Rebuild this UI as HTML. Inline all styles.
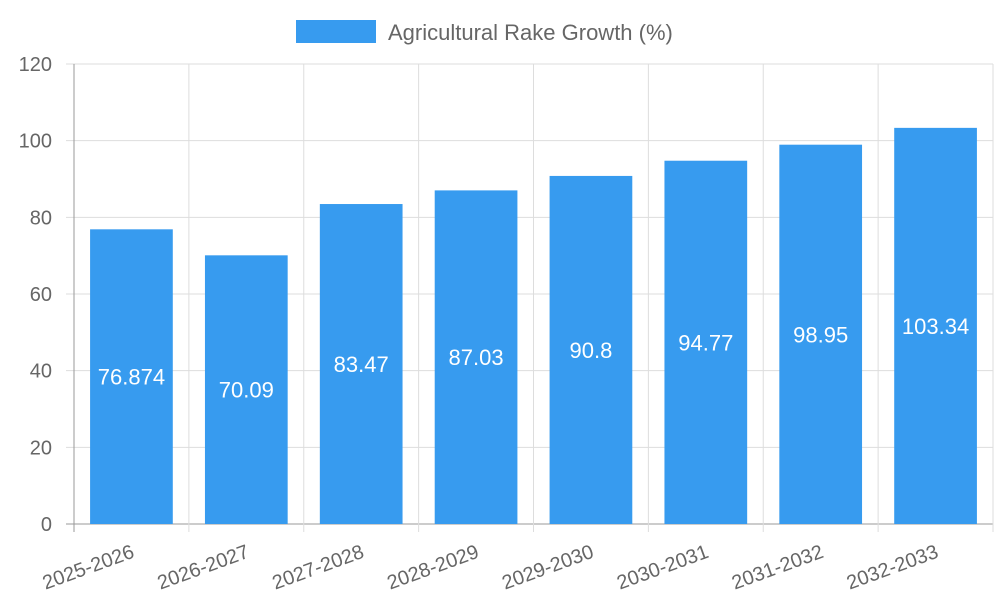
<!DOCTYPE html>
<html><head><meta charset="utf-8"><style>
body{margin:0;background:#fff;}
svg{display:block;font-family:"Liberation Sans",sans-serif;}
</style></head><body>
<svg id="chart" width="1000" height="600" viewBox="0 0 1000 600">
<g id="legend">
<rect x="296" y="20" width="80" height="23" fill="#379bef"/>
<text x="388" y="40" font-size="22" fill="#666">Agricultural Rake Growth (%)</text>
</g>
<g id="grid"></g><g id="bars"></g><g id="labels"></g>
</svg>
<script>
const categories=["2025-2026","2026-2027","2027-2028","2028-2029","2029-2030","2030-2031","2031-2032","2032-2033"];
const values=[76.874,70.09,83.47,87.03,90.8,94.77,98.95,103.34];
const yTicks=[0,20,40,60,80,100,120];
const NS="http://www.w3.org/2000/svg";
const L=74,R=993,T=64,B=524,yMax=120;
const y=v=>B-(v/yMax)*(B-T);
const cw=(R-L)/categories.length;
const x=i=>L+cw*i;
function mk(tag,attrs,parent){const e=document.createElementNS(NS,tag);for(const k in attrs)e.setAttribute(k,attrs[k]);parent.appendChild(e);return e;}
const grid=document.getElementById('grid'),bars=document.getElementById('bars'),labels=document.getElementById('labels');
yTicks.forEach(t=>{
 const ln=mk('line',{x1:L-8,x2:R,y1:y(t),y2:y(t),stroke:t===0?'#999':'#ddd','stroke-width':1},grid);
 
 
 const tx=mk('text',{x:L-22,y:y(t)+7,'text-anchor':'end','font-size':20,fill:'#666'},grid);
 tx.textContent=t;
 
 
});
for(let i=0;i<=categories.length;i++){
 const ln=mk('line',{x1:x(i),x2:x(i),y1:T,y2:B+8,stroke:i===0?'#999':'#ddd','stroke-width':1},grid);
 
 
}
categories.forEach((c,i)=>{
 const bw=cw*0.72,cx=x(i)+cw/2;
 const r=mk('rect',{x:cx-bw/2,y:y(values[i]),width:bw,height:B-y(values[i]),fill:'#379bef'},bars);
 
 
 const v=mk('text',{x:cx,y:y(values[i]/2)+8,'text-anchor':'middle','font-size':22,fill:'#fff'},labels);
 v.textContent=values[i];
 
 
 const tx=mk('text',{x:0,y:0,'text-anchor':'end','font-size':20,fill:'#666',transform:`translate(${cx+4},${B+33}) rotate(-20)`},labels);
 tx.textContent=c;
 
 
});
</script>
</body></html>
